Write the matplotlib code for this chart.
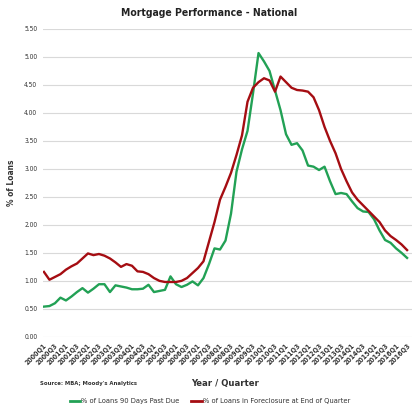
import matplotlib.pyplot as plt
from matplotlib.lines import Line2D

plt.rcParams['font.family'] = ['DejaVu Sans']
plt.rcParams['font.stretch'] = 'condensed'

# quarters 2000Q1 .. 2016Q3
quarters = [f"{y}Q{q}" for y in range(2000, 2017) for q in range(1, 5)][:67]

past_due_90 = [0.54, 0.55, 0.60, 0.70, 0.65, 0.72, 0.80, 0.87, 0.79, 0.86,
               0.94, 0.94, 0.80, 0.92, 0.90, 0.88, 0.85, 0.85, 0.86, 0.93,
               0.80, 0.82, 0.84, 1.08, 0.94, 0.89, 0.93, 0.99, 0.92, 1.05,
               1.30, 1.58, 1.56, 1.72, 2.20, 2.95, 3.35, 3.68, 4.35, 5.07,
               4.92, 4.75, 4.40, 4.05, 3.62, 3.43, 3.46, 3.33, 3.06, 3.04,
               2.98, 3.04, 2.78, 2.55, 2.57, 2.55, 2.42, 2.30, 2.24, 2.23,
               2.10, 1.90, 1.73, 1.68, 1.58, 1.50, 1.41]

foreclosure = [1.16, 1.02, 1.07, 1.12, 1.20, 1.26, 1.31, 1.40, 1.49, 1.46,
               1.48, 1.45, 1.40, 1.33, 1.25, 1.30, 1.27, 1.17, 1.16, 1.12,
               1.05, 1.00, 0.98, 0.98, 0.98, 1.00, 1.05, 1.14, 1.23, 1.35,
               1.70, 2.05, 2.45, 2.68, 2.93, 3.25, 3.60, 4.20, 4.45, 4.55,
               4.62, 4.58, 4.38, 4.65, 4.55, 4.45, 4.41, 4.40, 4.38, 4.28,
               4.05, 3.75, 3.50, 3.28, 3.00, 2.78, 2.58, 2.45, 2.35, 2.25,
               2.15, 2.05, 1.90, 1.80, 1.73, 1.65, 1.55]

green = '#22a155'
red = '#a50d12'
text_c = '#333333'

fig = plt.figure(figsize=(4.2, 4.2), dpi=100)
ax = fig.add_axes([0.102, 0.198, 0.879, 0.733])

x = list(range(len(quarters)))
ax.plot(x, past_due_90, color=green, lw=1.7)
ax.plot(x, foreclosure, color=red, lw=1.7)

ax.set_ylim(0, 5.5)
ax.set_xlim(-0.2, 66.9)
ax.set_yticks([i * 0.5 for i in range(12)])
ax.set_yticklabels([f"{i * 0.5:.2f}" for i in range(12)], fontsize=4.8, color=text_c)
ax.set_xticks(x[::2])
ax.set_xticklabels(quarters[::2], rotation=45, ha='right', rotation_mode='anchor',
                   fontsize=5, fontweight='bold', color=text_c)
ax.tick_params(axis='both', length=0, pad=4)
ax.grid(axis='y', color='#d9d9d9', lw=0.8)
ax.set_axisbelow(True)
for s in ax.spines.values():
    s.set_visible(False)

ax.set_ylabel('% of Loans', fontsize=6, fontweight='bold', color=text_c, labelpad=6)
fig.text(0.497, 0.968, 'Mortgage Performance - National', ha='center', va='center',
         fontsize=7.5, fontweight='bold', color='#222222')
fig.text(0.535, 0.088, 'Year / Quarter', ha='center', va='center',
         fontsize=6.8, fontweight='bold', color=text_c)
fig.text(0.095, 0.088, "Source: MBA; Moody's Analytics", ha='left', va='center',
         fontsize=4.2, fontweight='bold', color=text_c)

handles = [Line2D([], [], color=green, lw=2), Line2D([], [], color=red, lw=2)]
fig.legend(handles, ['% of Loans 90 Days Past Due',
                     '% of Loans in Foreclosure at End of Quarter'],
           loc='center', bbox_to_anchor=(0.5, 0.045), ncol=2, frameon=False,
           fontsize=5.4, handlelength=1.4, handletextpad=0.1, columnspacing=1.6,
           labelcolor=text_c)

fig.savefig('out.png', dpi=100)
